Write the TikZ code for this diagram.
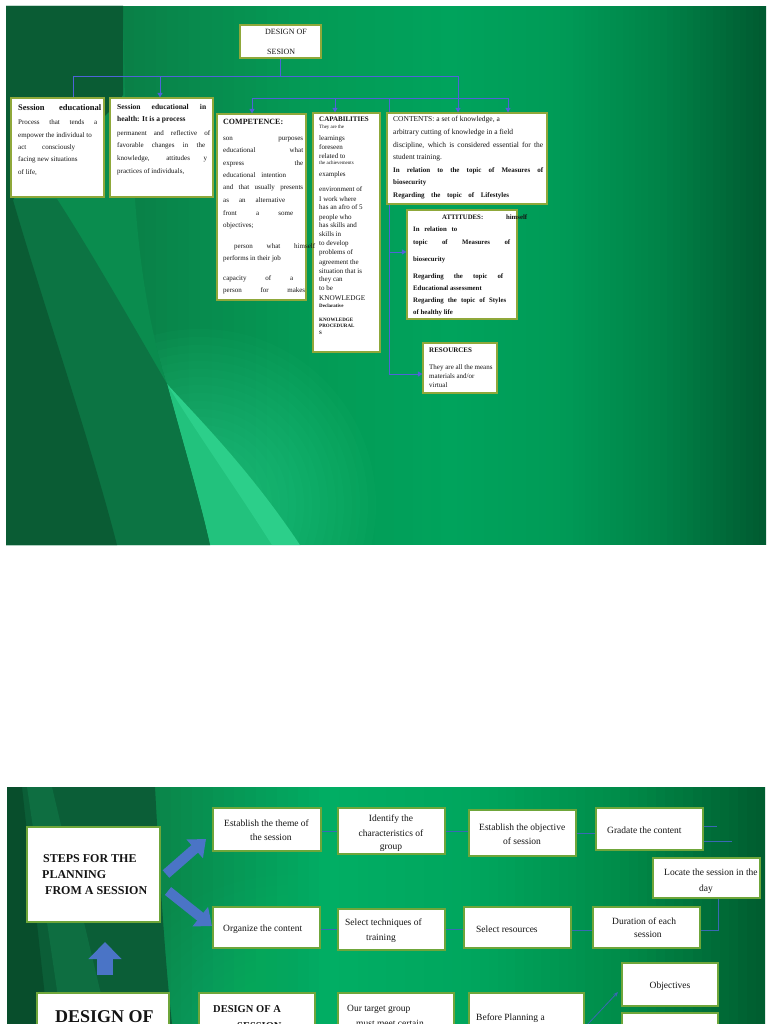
\documentclass[tikz,border=0pt]{standalone}
\usepackage{fontspec}
\setmainfont{Liberation Serif}
\usetikzlibrary{arrows.meta,fit}
\definecolor{tborder}{HTML}{8FA83A}
\definecolor{bborder}{HTML}{6FA63A}
\definecolor{cblue}{HTML}{4F63D8}
\definecolor{bblue}{HTML}{3A68B4}
\definecolor{arrblue}{HTML}{4A74C6}
\definecolor{tsA}{HTML}{0A5C34}
\definecolor{tsB}{HTML}{0A7F47}
\definecolor{tsC}{HTML}{049A55}
\definecolor{tsD}{HTML}{00A35C}
\definecolor{tsE}{HTML}{009B57}
\definecolor{tsF}{HTML}{008348}
\definecolor{tsG}{HTML}{005A30}
\definecolor{tdark}{HTML}{0A5C34}
\definecolor{tmed}{HTML}{0C7443}
\definecolor{tmedtwo}{HTML}{0A8C4E}
\definecolor{tglow}{HTML}{45F0AA}
\definecolor{ttri}{HTML}{22C27D}
\definecolor{bsA}{HTML}{0B5E37}
\definecolor{bsB}{HTML}{0A864A}
\definecolor{bsC}{HTML}{01AE64}
\definecolor{bsD}{HTML}{00A55D}
\definecolor{bsE}{HTML}{008C49}
\definecolor{bsF}{HTML}{005C2F}
\definecolor{bglow}{HTML}{19D083}
\definecolor{bdark}{HTML}{0B5E37}
\definecolor{bmid}{HTML}{0E6E41}
\definecolor{bdarker}{HTML}{084E2C}
\definecolor{ink}{HTML}{141414}
\pgfdeclarelayer{bglayer}
\pgfdeclarelayer{linelayer}
\pgfsetlayers{bglayer,linelayer,main}
\newcounter{tln}
\newcommand{\fsz}[1]{\fontsize{#1}{#1}\selectfont}
\newcommand{\putline}[4]{\stepcounter{tln}\node[txt,font={#3}] (tl\arabic{tln}) at (#1,#2) {#4};}
\newcommand{\putjust}[5]{\stepcounter{tln}\node[txt,font={#4}] (tl\arabic{tln}) at (#1,#2) {\makebox[#3pt][s]{#5}};}
\newcommand{\putcenter}[4]{\stepcounter{tln}\node[txtc,font={#3}] (tl\arabic{tln}) at (#1,#2) {#4};}
\newcommand{\mkbox}[6]{\node[#1, fit={(#3,#4)(#5,#6)}] (#2) {};}
\begin{document}
\begin{tikzpicture}[x=1pt,y=-1pt,
  txt/.style={anchor=base west, inner sep=0pt, text=ink},
  txtc/.style={anchor=base, inner sep=0pt, text=ink},
  boxT/.style={draw=tborder, line width=1.2pt, fill=white, inner sep=0pt},
  boxB/.style={draw=bborder, line width=1.4pt, fill=white, inner sep=0pt},
  conn/.style={draw=cblue, line width=1pt},
  connA/.style={conn, -{Triangle[length=4.5pt,width=5pt]}},
  bconn/.style={draw=bblue, line width=0.8pt},
  blockarr/.style={draw=arrblue, line width=10pt, -{Triangle[length=15pt,width=24pt]}},
  blockup/.style={draw=arrblue, line width=16pt, -{Triangle[length=17pt,width=32pt]}}]
\useasboundingbox (0,0) rectangle (768,1024);
\begin{pgfonlayer}{bglayer}
\fill[white] (0,0) rectangle (768,1024);
% ---------------- top panel background
\begin{scope}
\clip (6,6) rectangle (766,545);
\foreach \xa/\xb/\ca/\cb in {6/123/tsA/tsB, 123/300/tsB/tsC, 300/450/tsC/tsD, 450/560/tsD/tsE, 560/660/tsE/tsF, 660/766/tsF/tsG}{
  \foreach \k in {0,...,15}{
    \pgfmathsetmacro\xl{\xa+(\xb-\xa)*\k/16}
    \pgfmathsetmacro\xr{\xa+(\xb-\xa)*(\k+1)/16+0.6}
    \pgfmathsetmacro\pc{100-100*(\k+0.5)/16}
    \fill[\ca!\pc!\cb] (\xl,6) rectangle (\xr,545);
  }
}
\fill[tmedtwo] (6,6) -- (123,6) -- (125,100) .. controls (130,150) and (133,180) .. (135,199) .. controls (140,270) and (150,330) .. (167,384) .. controls (185,450) and (200,500) .. (210,545) -- (6,545) -- cycle;
\begin{scope}
\clip (125,100) .. controls (130,150) and (133,180) .. (135,199) .. controls (140,270) and (150,330) .. (167,384) .. controls (200,420) and (250,470) .. (300,545) -- (766,545) -- (766,100) -- cycle;
\foreach \r in {8,16,...,176}{\fill[tglow, opacity=0.03] (200,505) circle (\r);}
\end{scope}
\fill[ttri] (167,384) .. controls (185,450) and (200,500) .. (210,545) -- (300,545) .. controls (250,470) and (200,420) .. (167,384) -- cycle;
\fill[tglow, opacity=0.3] (167,384) .. controls (200,420) and (250,470) .. (300,545) -- (272,545) .. controls (232,482) and (196,432) .. (167,384) -- cycle;
\fill[tmed] (57,199) .. controls (90,250) and (130,320) .. (167,384) .. controls (185,450) and (200,500) .. (210,545) -- (6,545) -- (6,199) -- cycle;
\fill[tdark] (6,6) -- (123,6) -- (123,95) .. controls (100,130) and (40,160) .. (13,200) .. controls (45,310) and (90,440) .. (117,545) -- (6,545) -- cycle;
\end{scope}
% ---------------- bottom panel background
\begin{scope}
\clip (7,787) rectangle (765,1024);
\foreach \xa/\xb/\ca/\cb in {7/160/bsA/bsB, 160/330/bsB/bsC, 330/480/bsC/bsD, 480/620/bsD/bsE, 620/765/bsE/bsF}{
  \foreach \k in {0,...,15}{
    \pgfmathsetmacro\xl{\xa+(\xb-\xa)*\k/16}
    \pgfmathsetmacro\xr{\xa+(\xb-\xa)*(\k+1)/16+0.6}
    \pgfmathsetmacro\pc{100-100*(\k+0.5)/16}
    \fill[\ca!\pc!\cb] (\xl,787) rectangle (\xr,1024);
  }
}
\foreach \r in {10,20,...,200}{\fill[bglow, opacity=0.025] (290,1075) circle (\r);}
\fill[bdark] (7,787) -- (155,787) .. controls (160,880) and (165,960) .. (172,1024) -- (7,1024) -- cycle;
\fill[bmid] (27,787) -- (52,787) -- (100,990) -- (112,1024) -- (62,1024) -- cycle;
\fill[bdarker] (7,787) -- (22,787) -- (48,1024) -- (7,1024) -- cycle;
\end{scope}
\end{pgfonlayer}

% ---------------- top boxes
\mkbox{boxT}{design}{240}{25}{321}{58}
\mkbox{boxT}{sone}{11}{98}{104}{197}
\mkbox{boxT}{stwo}{110}{98}{213}{197}
\mkbox{boxT}{comp}{217}{114}{306}{300}
\mkbox{boxT}{capab}{313}{113}{380}{352}
\mkbox{boxT}{contents}{387}{113}{547}{204}
\mkbox{boxT}{attit}{407}{210}{517}{319}
\mkbox{boxT}{resour}{423}{343}{497}{393}

% ---------------- top connectors
\coordinate (jL) at (73,77);
\coordinate (jR) at (458,77);
\coordinate (jB) at (252,98.5);
\coordinate (jBR) at (508,98.5);
\coordinate (aTwo) at (160,77);
\coordinate (aFour) at (335,98.5);
\coordinate (jV) at (389,98.5);
\coordinate (jAtt) at (389,252);
\coordinate (jRes) at (389,374);
\begin{pgfonlayer}{linelayer}
\draw[conn] (design.south) -- (design.south |- jL);
\draw[conn] (jL) -- (jR) -- (jR |- jB) -- (jBR);
\draw[conn] (jB) -- (jR |- jB);
\draw[conn] (jL) -- (jL |- sone.north);
\draw[connA] (aTwo) -- (aTwo |- stwo.north);
\draw[connA] (jB) -- (jB |- comp.north);
\draw[connA] (aFour) -- (aFour |- capab.north);
\draw[connA] (jR |- jB) -- (jR |- contents.north);
\draw[connA] (jBR) -- (jBR |- contents.north);
\draw[conn] (jV) -- (jRes);
\draw[connA] (jAtt) -- (jAtt -| attit.west);
\draw[connA] (jRes) -- (jRes -| resour.west);
\end{pgfonlayer}

% ---------------- top texts
\putline{265}{35}{\fsz{8}}{DESIGN OF}
\putline{267}{54.5}{\fsz{8}}{SESION}

\putjust{18}{111}{83}{\fsz{8.5}\bfseries}{Session educational}
\putjust{18}{124.5}{79}{\fsz{7}}{Process that tends a}
\putline{18}{137.5}{\fsz{7}}{empower the individual to}
\putjust{18}{149.5}{57}{\fsz{7}}{act consciously}
\putline{18}{162}{\fsz{7}}{facing new situations}
\putline{18}{175}{\fsz{7}}{of life,}

\putjust{117}{109.5}{89}{\fsz{7.5}\bfseries}{Session educational in}
\putline{117}{122}{\fsz{7.5}\bfseries}{health: It is a process}
\putjust{117}{135.5}{93}{\fsz{7}}{permanent and reflective of}
\putjust{117}{148}{88}{\fsz{7}}{favorable changes in the}
\putjust{117}{160.5}{90}{\fsz{7}}{knowledge, attitudes y}
\putline{117}{174}{\fsz{7}}{practices of individuals,}

\putline{223}{125}{\fsz{8}\bfseries}{COMPETENCE:}
\putjust{223}{140.5}{80}{\fsz{7}}{son purposes}
\putjust{223}{152.5}{80}{\fsz{7}}{educational what}
\putjust{223}{165.5}{80}{\fsz{7}}{express the}
\putjust{223}{177.5}{63}{\fsz{7}}{educational intention}
\putjust{223}{190}{80}{\fsz{7}}{and that usually presents}
\putjust{223}{202.5}{62}{\fsz{7}}{as an alternative}
\putjust{223}{215.5}{70}{\fsz{7}}{front a some}
\putline{223}{228}{\fsz{7}}{objectives;}
\putjust{234}{248}{81}{\fsz{7}}{person what himself}
\putline{223}{260}{\fsz{7}}{performs in their job}
\putjust{223}{280}{70}{\fsz{7}}{capacity of a}
\putjust{223}{292.5}{82}{\fsz{7}}{person for makes}

\putline{319}{122}{\fsz{7}\bfseries}{CAPABILITIES}
\putline{319}{129}{\fsz{5}}{They are the}
\putline{319}{140.5}{\fsz{7}}{learnings}
\putline{319}{150}{\fsz{7}}{foreseen}
\putline{319}{158.5}{\fsz{7}}{related to}
\putline{319}{165}{\fsz{5}}{the achievements}
\putline{319}{176.5}{\fsz{7}}{examples}
\putline{319}{191.5}{\fsz{7}}{environment of}
\putline{319}{201.5}{\fsz{7}}{I work where}
\putline{319}{210}{\fsz{7}}{has an afro of 5}
\putline{319}{219}{\fsz{7}}{people who}
\putline{319}{227.5}{\fsz{7}}{has skills and}
\putline{319}{236.5}{\fsz{7}}{skills in}
\putline{319}{245.5}{\fsz{7}}{to develop}
\putline{319}{254.5}{\fsz{7}}{problems of}
\putline{319}{264}{\fsz{7}}{agreement the}
\putline{319}{273}{\fsz{7}}{situation that is}
\putline{319}{281.5}{\fsz{7}}{they can}
\putline{319}{290.5}{\fsz{7}}{to be}
\putline{319}{300}{\fsz{7.2}}{KNOWLEDGE}
\putline{319}{307}{\fsz{5}\bfseries}{Declarative}
\putline{319}{321}{\fsz{5}\bfseries}{KNOWLEDGE}
\putline{319}{327.5}{\fsz{5}\bfseries}{PROCEDURAL}
\putline{319}{334}{\fsz{5}\bfseries}{S}

\putline{393}{122}{\fsz{7.5}}{CONTENTS: a set of knowledge, a}
\putjust{393}{135}{120}{\fsz{7.5}}{arbitrary cutting of knowledge in a field}
\putjust{393}{147.5}{150}{\fsz{7.5}}{discipline, which is considered essential for the}
\putline{393}{160}{\fsz{7.5}}{student training.}
\putjust{393}{172.5}{150}{\fsz{7}\bfseries}{In relation to the topic of Measures of}
\putline{393}{185}{\fsz{7}\bfseries}{biosecurity}
\putjust{393}{198}{116}{\fsz{7}\bfseries}{Regarding the topic of Lifestyles}

\putjust{442}{219.5}{85}{\fsz{6.8}\bfseries}{ATTITUDES: himself}
\putjust{413}{231.5}{44}{\fsz{6.8}\bfseries}{In relation to}
\putjust{413}{244.5}{97}{\fsz{6.8}\bfseries}{topic of Measures of}
\putline{413}{261.5}{\fsz{6.8}\bfseries}{biosecurity}
\putjust{413}{278}{90}{\fsz{6.8}\bfseries}{Regarding the topic of}
\putline{413}{290}{\fsz{6.8}\bfseries}{Educational assessment}
\putjust{413}{302.5}{93}{\fsz{6.8}\bfseries}{Regarding the topic of Styles}
\putline{413}{314.5}{\fsz{6.8}\bfseries}{of healthy life}

\putline{429}{352.5}{\fsz{7}\bfseries}{RESOURCES}
\putline{429}{369.5}{\fsz{7}}{They are all the means}
\putline{429}{378.5}{\fsz{7}}{materials and/or}
\putline{429}{387.5}{\fsz{7}}{virtual}

% ---------------- bottom boxes
\mkbox{boxB}{steps}{27}{827}{160}{922}
\mkbox{boxB}{designof}{37}{993}{169}{1034}
\mkbox{boxB}{designa}{199}{993}{315}{1034}
\mkbox{boxB}{target}{338}{993}{454}{1034}
\mkbox{boxB}{before}{469}{993}{584}{1034}
\mkbox{boxB}{objectives}{622}{963}{718}{1006}
\mkbox{boxB}{objtwo}{622}{1013}{718}{1034}
\mkbox{boxB}{theme}{213}{808}{321}{851}
\mkbox{boxB}{identify}{338}{808}{445}{854}
\mkbox{boxB}{objective}{469}{810}{576}{856}
\mkbox{boxB}{gradate}{596}{808}{703}{850}
\mkbox{boxB}{locate}{653}{858}{760}{898}
\mkbox{boxB}{organize}{213}{907}{320}{948}
\mkbox{boxB}{techniques}{338}{909}{445}{950}
\mkbox{boxB}{resourcestwo}{464}{907}{571}{948}
\mkbox{boxB}{duration}{593}{907}{700}{948}

% ---------------- bottom connectors
\coordinate (gOne) at (717,826);
\coordinate (gTwo) at (732,841);
\coordinate (lc) at (718,930);
\coordinate (bp) at (587,1025);
\coordinate (op) at (618,992);
\coordinate (baOneS) at (166,874);
\coordinate (baOneE) at (206,839);
\coordinate (baTwoS) at (168,891);
\coordinate (baTwoE) at (212,926);
\coordinate (upS) at (105,975);
\coordinate (upE) at (105,942);
\begin{pgfonlayer}{linelayer}
\draw[bconn] (theme.east |- identify.west) -- (identify.west);
\draw[bconn] (identify.east) -- (identify.east -| objective.west);
\draw[bconn] (objective.east) -- (objective.east -| gradate.west);
\draw[bconn] (gradate.east |- gOne) -- (gOne);
\draw[bconn] (gradate.east |- gTwo) -- (gTwo);
\draw[bconn] (locate.south -| lc) -- (lc) -- (lc -| duration.east);
\draw[bconn] (resourcestwo.east |- lc) -- (duration.west |- lc);
\draw[bconn] (techniques.east) -- (techniques.east -| resourcestwo.west);
\draw[bconn] (organize.east |- techniques.west) -- (techniques.west);
\draw[bconn, -{Stealth[length=5pt,width=4pt]}] (bp) -- (op);
\draw[blockarr] (baOneS) -- (baOneE);
\draw[blockarr] (baTwoS) -- (baTwoE);
\draw[blockup] (upS) -- (upE);
\end{pgfonlayer}

% ---------------- bottom texts
\putline{43}{862}{\fsz{12}\bfseries}{STEPS FOR THE}
\putline{42}{878}{\fsz{12}\bfseries}{PLANNING}
\putline{45}{894.5}{\fsz{12}\bfseries}{FROM A SESSION}
\putline{55}{1022}{\fsz{18}\bfseries}{DESIGN OF}
\putline{213}{1012}{\fsz{10.5}\bfseries}{DESIGN OF A}
\putline{237}{1029.5}{\fsz{10.5}\bfseries}{SESSION}
\putline{347}{1011.5}{\fsz{9.5}}{Our target group}
\putline{356}{1026.5}{\fsz{9.5}}{must meet certain}
\putline{476}{1020.5}{\fsz{9.5}}{Before Planning a}
\putcenter{670}{988}{\fsz{9.5}}{Objectives}
\putline{224}{826}{\fsz{9.5}}{Establish the theme of}
\putline{250}{840}{\fsz{9.5}}{the session}
\putcenter{391}{821.5}{\fsz{9.5}}{Identify the}
\putcenter{391}{836}{\fsz{9.5}}{characteristics of}
\putcenter{391}{849.5}{\fsz{9.5}}{group}
\putline{479}{830}{\fsz{9.5}}{Establish the objective}
\putline{503}{844}{\fsz{9.5}}{of session}
\putline{607}{833}{\fsz{9.5}}{Gradate the content}
\putline{664}{875}{\fsz{9.5}}{Locate the session in the}
\putcenter{706}{891}{\fsz{9.5}}{day}
\putline{223}{931}{\fsz{9.5}}{Organize the content}
\putline{345}{925}{\fsz{9.5}}{Select techniques of}
\putline{366}{940}{\fsz{9.5}}{training}
\putline{476}{932}{\fsz{9.5}}{Select resources}
\putline{612}{924}{\fsz{9.5}}{Duration of each}
\putline{634}{937.5}{\fsz{9.5}}{session}
\end{tikzpicture}
\end{document}
